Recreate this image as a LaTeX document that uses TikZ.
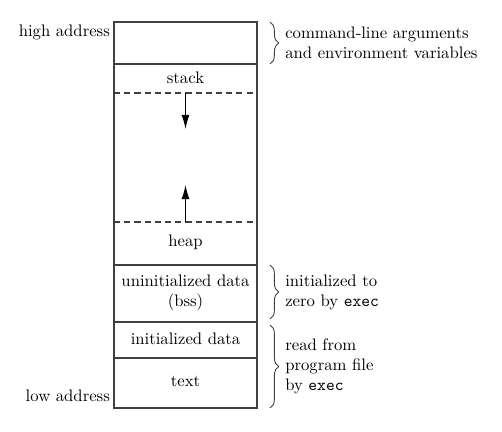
\documentclass[tikz,border=0pt]{standalone}
\usepackage{tikz}
\usetikzlibrary{positioning,arrows.meta,decorations.pathreplacing}

\tikzset{
  seg/.style={line width=0.6pt, draw=black!75},
  gap/.style={seg, dash pattern=on 3.5pt off 2.3pt},
  growarrow/.style={line width=0.6pt, -{Latex[length=8pt,width=4.5pt]}},
  brc/.style={line width=0.5pt, draw=black!75, decorate, decoration={brace, amplitude=5pt}},
  lbl/.style={font=\fontsize{9.5}{11.3}\selectfont, inner sep=1pt},
  note/.style={lbl, align=left, anchor=west, inner sep=0pt}
}

\begin{document}
\begin{tikzpicture}[x=0.2mm, y=-0.2mm]
\useasboundingbox (0,0) rectangle (502,431);
\coordinate (tl) at (114,22);
\coordinate (br) at (257,408);
\coordinate (s1) at (114,64);
\coordinate (s2) at (114,93);
\coordinate (s3) at (114,222);
\coordinate (s4) at (114,265);
\coordinate (s5) at (114,322);
\coordinate (s6) at (114,358);

% segment borders
\draw[seg] (tl) rectangle (br);
\draw[seg] (s1) -- ++(143,0);
\draw[gap] (s2) -- ++(143,0);
\draw[gap] (s3) -- ++(143,0);
\draw[seg] (s4) -- ++(143,0);
\draw[seg] (s5) -- ++(143,0);
\draw[seg] (s6) -- ++(143,0);

% segment names
\node[lbl] (stack) at (185.5,78) {stack};
\node[lbl] (heap) at (185.5,242) {heap};
\node[lbl, align=center] (bss) at (185.5,293) {uninitialized data\\(bss)};
\node[lbl] (data) at (185.5,339) {initialized data};
\node[lbl] (text) at (185.5,381) {text};
\node[lbl, anchor=east] (high) at (112,32) {high address};
\node[lbl, anchor=east] (low) at (112,396) {low address};

% growth of stack and heap
\coordinate (stacktop) at (185.5,93);
\coordinate (stackend) at (185.5,129);
\coordinate (heaptop) at (185.5,222);
\coordinate (heapend) at (185.5,185);
\draw[growarrow] (stacktop) -- (stackend);
\draw[growarrow] (heaptop) -- (heapend);

% braces on the right
\draw[brc] (270,22) -- (270,64) coordinate[midway, xshift=8.5pt] (b1);
\draw[brc] (270,265) -- (270,319) coordinate[midway, xshift=8.5pt] (b2);
\draw[brc] (270,325) -- (270,408) coordinate[midway, xshift=8.5pt] (b3);
\node[note] (args) at (b1) {command-line arguments\\and environment variables};
\node[note] (zero) at (b2) {initialized to\\zero by \texttt{exec}};
\node[note] (prog) at (b3) {read from\\program file\\by \texttt{exec}};
\end{tikzpicture}
\end{document}
